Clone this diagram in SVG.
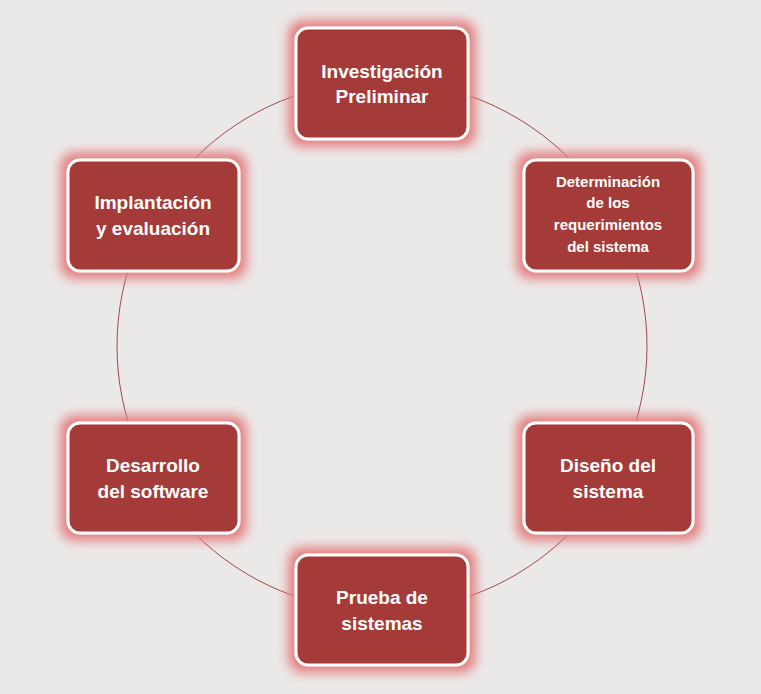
<svg xmlns="http://www.w3.org/2000/svg" width="761" height="694" viewBox="0 0 761 694">
<defs>
<filter id="glow" x="-30%" y="-30%" width="160%" height="160%">
<feMorphology in="SourceAlpha" operator="dilate" radius="6" result="d"/>
<feGaussianBlur in="d" stdDeviation="6" result="b"/>
<feFlood flood-color="#e47b7c"/>
<feComposite in2="b" operator="in" result="g"/>
<feMerge><feMergeNode in="g"/><feMergeNode in="SourceGraphic"/></feMerge>
</filter>
<style>
.box{fill:#a53a37;stroke:#fff;stroke-width:3;filter:url(#glow)}
.t{fill:#fff;font-family:"Liberation Sans",Arial,sans-serif;font-weight:bold;font-size:19px;text-anchor:middle}
.s{font-size:15px}
</style>
</defs>
<rect width="761" height="694" fill="#ebe9e8"/>
<g id="connectors"><circle cx="382" cy="346" r="265" fill="none" stroke="#a0484a" stroke-width="1"/></g>
<g id="n1"><rect class="box" x="296" y="28" width="172" height="111" rx="12"/><text class="t" x="382" y="78">Investigación</text><text class="t" x="382" y="103">Preliminar</text></g>
<g id="n2"><rect class="box" x="524" y="160" width="169" height="111" rx="12"/><text class="t s" x="608" y="187">Determinación</text><text class="t s" x="608" y="208">de los</text><text class="t s" x="608" y="230">requerimientos</text><text class="t s" x="608" y="252">del sistema</text></g>
<g id="n3"><rect class="box" x="524" y="423" width="169" height="110" rx="12"/><text class="t" x="608" y="472">Diseño del</text><text class="t" x="608" y="498">sistema</text></g>
<g id="n4"><rect class="box" x="296" y="555" width="172" height="110" rx="12"/><text class="t" x="382" y="604">Prueba de</text><text class="t" x="382" y="630">sistemas</text></g>
<g id="n5"><rect class="box" x="68" y="423" width="171" height="110" rx="12"/><text class="t" x="153" y="472">Desarrollo</text><text class="t" x="153" y="498">del software</text></g>
<g id="n6"><rect class="box" x="68" y="160" width="171" height="111" rx="12"/><text class="t" x="153" y="209">Implantación</text><text class="t" x="153" y="235">y evaluación</text></g>
</svg>
